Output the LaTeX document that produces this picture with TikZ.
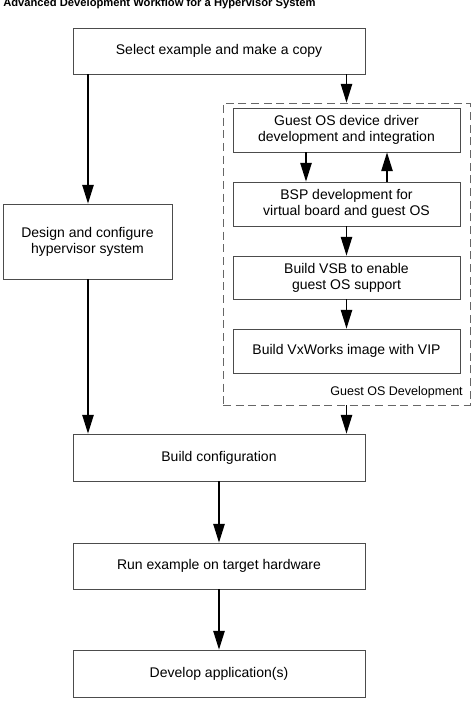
\documentclass[tikz,border=0pt]{standalone}
\usepackage{fontspec}
\setmainfont{Liberation Sans}
\usetikzlibrary{arrows.meta}
\begin{document}
\begin{tikzpicture}[x=0.75pt,y=-0.75pt,
  box/.style={draw=black!70,line width=0.6pt,inner sep=0pt,align=center,
    font=\fontsize{10.5}{12}\selectfont},
  wide/.style={minimum width=219pt},
  gbox/.style={minimum width=170.25pt,minimum height=33pt},
  grp/.style={draw=black!60,line width=0.6pt,dash pattern=on 6pt off 3.5pt,inner sep=0pt,
    minimum width=185.25pt,minimum height=226.5pt},
  arr/.style={line width=1pt,-{Triangle[length=14pt,width=8.5pt]}},
  ttl/.style={font=\fontsize{8.4}{10}\selectfont\bfseries,anchor=base west,inner sep=0pt},
  lbl/.style={font=\fontsize{9.4}{11}\selectfont,anchor=east,inner sep=0pt}]
\useasboundingbox (0,0) rectangle (474,702);
\node[ttl] (title) at (3,7) {Advanced Development Workflow for a Hypervisor System};
\node[box,wide,minimum height=34.5pt] (sel) at (219,51) {Select example and make a copy};
\node[box,minimum width=126.75pt,minimum height=56.25pt] (des) at (87.5,241.5) {Design and configure\\hypervisor system};
\node[grp] (gdev) at (346.5,254) {};
\node[box,gbox] (g1) at (346.5,130) {Guest OS device driver\\development and integration};
\node[box,gbox] (g2) at (346.5,204) {BSP development for\\virtual board and guest OS};
\node[box,gbox,minimum height=32.25pt] (g3) at (346.5,277.5) {Build VSB to enable\\guest OS support};
\node[box,gbox] (g4) at (346.5,351) {Build VxWorks image with VIP};
\node[lbl] (glbl) at (463,392.5) {Guest OS Development};
\node[box,wide,minimum height=35.25pt] (bld) at (219,457.5) {Build configuration};
\node[box,wide,minimum height=34.5pt] (run) at (219,566) {Run example on target hardware};
\node[box,wide,minimum height=35.25pt] (dev) at (219,673.5) {Develop application(s)};
\coordinate (la) at (88,0);
\coordinate (dn) at (306,0);
\coordinate (up) at (387,0);
\draw[arr] (sel.south -| la) -- (des.north -| la);
\draw[arr] (des.south -| la) -- (bld.north -| la);
\draw[arr] (sel.south -| g1) -- (gdev.north -| g1);
\draw[arr] (g1.south -| dn) -- (g2.north -| dn);
\draw[arr] (g2.north -| up) -- (g1.south -| up);
\draw[arr] (g2) -- (g3);
\draw[arr] (g3) -- (g4);
\draw[arr] (gdev.south -| g1) -- (bld.north -| g1);
\draw[arr] (bld) -- (run);
\draw[arr] (run) -- (dev);
\end{tikzpicture}
\end{document}
